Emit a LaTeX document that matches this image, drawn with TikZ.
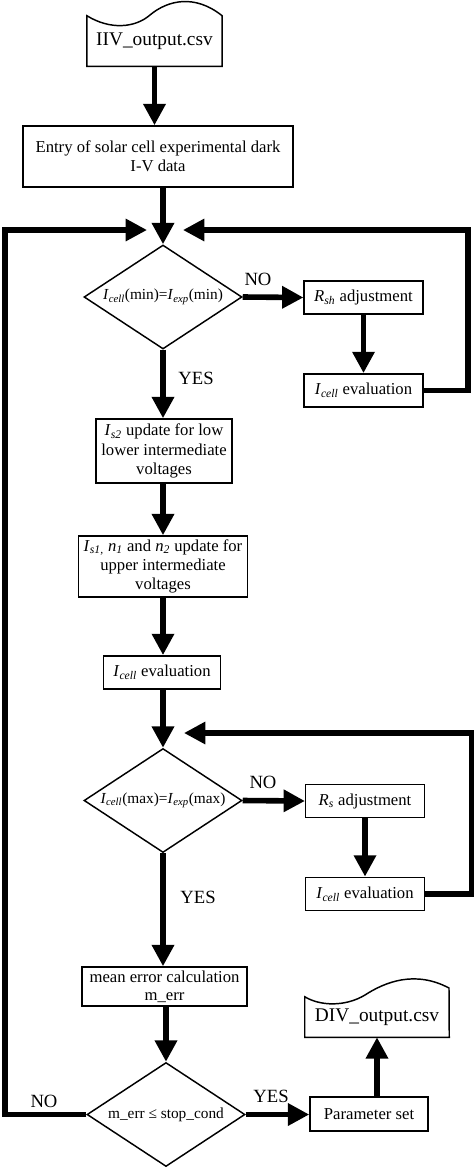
\documentclass[tikz,border=0pt]{standalone}
\usepackage{fontspec}
\setmainfont{Liberation Serif}
\usetikzlibrary{arrows.meta,shapes.geometric}
\newcommand{\cellI}{\textit{I}\textsubscript{\textit{cell}}}
\newcommand{\expI}{\textit{I}\textsubscript{\textit{exp}}}
\tikzset{
  procbox/.style={draw, line width=1.1pt, align=center, inner sep=1pt, font=\fontsize{12.5}{14.5}\selectfont},
  filebox/.style={align=center, inner sep=1pt, font=\fontsize{14.5}{16}\selectfont},
  decision/.style={draw, diamond, line width=1.1pt, aspect=1.52, inner sep=0pt,
    minimum width=118.5pt, minimum height=78pt, font=\fontsize{11.5}{13}\selectfont},
  flow/.style={draw, line width=4.2pt, -{Triangle[length=16pt,width=16pt]}},
  loopback/.style={draw, line width=3.8pt, -{Triangle[length=16pt,width=16pt]}},
  answer/.style={font=\fontsize{14}{16}\selectfont},
}
\begin{document}
\begin{tikzpicture}[x=0.75pt,y=-0.75pt]
  \useasboundingbox (0,0) rectangle (474,1168);

  % input and output files
  \node[filebox, minimum width=101pt, minimum height=37.5pt] (iiv) at (154.5,41) {IIV\_output.csv};
  \draw[line width=1.1pt] (iiv.south west) -- (iiv.north west)
    .. controls (110,30) and (135,28) .. (150,15)
    .. controls (168,0) and (195,-6) .. (iiv.north east) -- (iiv.south east) -- cycle;
  \node[filebox, minimum width=108pt, minimum height=30pt] (div) at (377,1017) {DIV\_output.csv};
  \draw[line width=1.1pt] (div.south west) -- (div.north west)
    .. controls (320,1006) and (345,1007) .. (365,995)
    .. controls (385,982) and (415,970) .. (449,988) -- (div.south east) -- cycle;

  % main column
  \node[procbox, minimum width=202.5pt, minimum height=45.75pt] (entry) at (158,156.5)
    {Entry of solar cell experimental dark\\I-V data};
  \node[decision] (dec1) at (163,297) {\cellI(min)=\expI(min)};
  \node[procbox, minimum width=102pt, minimum height=48pt] (is2) at (164,451)
    {\textit{I}\textsubscript{\textit{s2}} update for low\\lower intermediate\\voltages};
  \node[procbox, minimum width=127pt, minimum height=45.75pt] (is1) at (163,566.5)
    {\textit{I}\textsubscript{\textit{s1,}} \textit{n}\textsubscript{\textit{1}} and
     \textit{n}\textsubscript{\textit{2}} update for\\upper intermediate\\voltages};
  \node[procbox, minimum width=88pt, minimum height=25pt] (ev0) at (162,672.5) {\cellI{} evaluation};
  \node[decision] (dec2) at (163,800.5) {\cellI(max)=\expI(max)};
  \node[procbox, minimum width=124pt, minimum height=29.25pt, font=\fontsize{12.5}{13.5}\selectfont]
    (err) at (164.5,986.5) {mean error calculation\\m\_err};
  \node[decision] (dec3) at (166,1114.5) {m\_err ≤ stop\_cond};

  % side column
  \node[procbox, minimum width=89pt, minimum height=25pt] (rsh) at (363.5,297.5)
    {\textit{R}\textsubscript{\textit{sh}} adjustment};
  \node[procbox, minimum width=89pt, minimum height=25pt] (ev1) at (363.5,390.5) {\cellI{} evaluation};
  \node[procbox, minimum width=89pt, minimum height=25pt] (rs) at (365,801)
    {\textit{R}\textsubscript{\textit{s}} adjustment};
  \node[procbox, minimum width=89pt, minimum height=25pt] (ev2) at (365,894) {\cellI{} evaluation};
  \node[procbox, minimum width=88.5pt, minimum height=25.5pt] (par) at (369,1114) {Parameter set};

  % loop entry points
  \coordinate (in1l) at (147,230);
  \coordinate (in1r) at (183,230);
  \coordinate (in2r) at (184,733);

  % labels
  \node[answer] (no1) at (258,279) {NO};
  \node[answer] (yes1) at (196,378) {YES};
  \node[answer] (no2) at (263,782) {NO};
  \node[answer] (yes2) at (198,897) {YES};
  \node[answer] (no3) at (44,1101) {NO};
  \node[answer] (yes3) at (271,1096) {YES};

  % connectors
  \draw[flow] (iiv.south) -- (iiv.south |- entry.north);
  \draw[flow] (entry.south -| dec1.north) -- (dec1.north);
  \draw[flow] (dec1.south) -- (dec1.south |- is2.north);
  \draw[flow] (is2.south -| dec1.south) -- (dec1.south |- is1.north);
  \draw[flow] (is1.south -| dec1.south) -- (dec1.south |- ev0.north);
  \draw[flow] (ev0.south -| dec2.north) -- (dec2.north);
  \draw[flow] (dec2.south) -- (dec2.south |- err.north);
  \draw[flow] (err.south -| dec3.north) -- (dec3.north);
  \draw[flow] (dec1.east) -- (rsh.west);
  \draw[flow] (rsh.south) -- (ev1.north);
  \draw[flow] (dec2.east) -- (rs.west);
  \draw[flow] (rs.south) -- (ev2.north);
  \draw[flow] (dec3.east) -- (dec3.east -| par.west);
  \draw[flow] (par.north -| div.south) -- (div.south);
  \draw[loopback] (ev1.east) -| (468,230) -- (in1r);
  \draw[loopback] (ev2.east) -| (472,733) -- (in2r);
  \draw[loopback] (dec3.west) -| (5,230) -- (in1l);
\end{tikzpicture}
\end{document}
